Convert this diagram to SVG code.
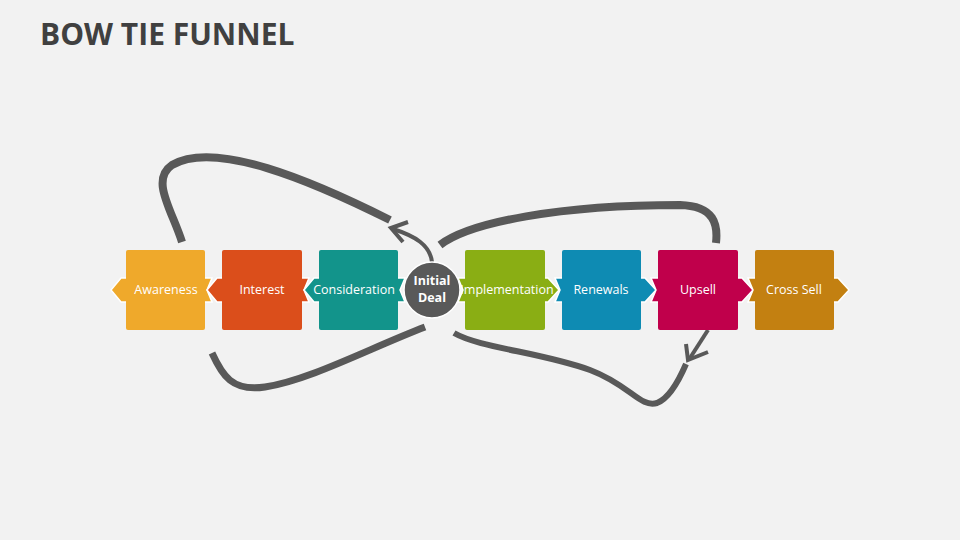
<svg xmlns="http://www.w3.org/2000/svg" width="960" height="540" viewBox="0 0 960 540">
<style>
.lbl{font-family:"Open Sans","Liberation Sans",sans-serif;font-size:12.5px;fill:#fff;text-anchor:middle}
.ln{fill:none;stroke:#595959;stroke-linecap:butt}
.tab{stroke:#fff;stroke-width:1.5}
</style>
<rect width="960" height="540" fill="#f2f2f2"/>
<text x="40" y="45" font-family="Open Sans,Liberation Sans,sans-serif" font-weight="bold" font-size="30" fill="#404040">BOW TIE FUNNEL</text>
<g id="connectors">
<path class="ln" stroke-width="8" d="M182,242 C172,210 150,180 172,165 C215,140 310,180 390,220"/>
<path class="ln" stroke-width="4" d="M432,262 C430,245 415,236 393,229"/>
<path class="ln" stroke-width="4" d="M408,222 L391,228 L403,242"/>
<path class="ln" stroke-width="8" d="M440,245 C470,222 560,205 680,205 C715,206 718,225 716,243"/>
<path class="ln" stroke-width="7" d="M212,353 C222,375 232,392 265,387 C310,380 370,348 425,327"/>
<path class="ln" stroke-width="6" d="M454,333 C480,348 540,352 590,370 C630,385 640,408 657,403 C670,398 680,378 686,364"/>
<path class="ln" stroke-width="4" d="M708,330 L690,358"/>
<path class="ln" stroke-width="4" d="M686,344 L688,360 L708,352"/>
</g>
<g id="awareness"><polygon class="tab" fill="#efa92b" points="111,290 121,278 212,278 207,290 212,302 121,302"/><rect x="126" y="250" width="79" height="80" rx="2" fill="#efa92b"/><text class="lbl" x="166" y="294">Awareness</text></g>
<g id="interest"><polygon class="tab" fill="#db4e1b" points="207,290 217,278 309,278 304,290 309,302 217,302"/><rect x="222" y="250" width="80" height="80" rx="2" fill="#db4e1b"/><text class="lbl" x="262" y="294">Interest</text></g>
<g id="consideration"><polygon class="tab" fill="#12948b" points="304,290 314,278 405,278 400,290 405,302 314,302"/><rect x="319" y="250" width="79" height="80" rx="2" fill="#12948b"/><text class="lbl" x="354" y="294">Consideration</text></g>
<g id="implementation"><polygon class="tab" fill="#8aae14" points="458,278 548,278 559,290 548,302 458,302 463,290"/><rect x="465" y="250" width="80" height="80" rx="2" fill="#8aae14"/><text class="lbl" x="507" y="294" font-size="10.5">Implementation</text></g>
<g id="renewals"><polygon class="tab" fill="#0e8bb3" points="555,278 645,278 656,290 645,302 555,302 560,290"/><rect x="562" y="250" width="79" height="80" rx="2" fill="#0e8bb3"/><text class="lbl" x="601" y="294">Renewals</text></g>
<g id="upsell"><polygon class="tab" fill="#c0004b" points="651,278 742,278 753,290 742,302 651,302 656,290"/><rect x="658" y="250" width="80" height="80" rx="2" fill="#c0004b"/><text class="lbl" x="698" y="294">Upsell</text></g>
<g id="cross-sell"><polygon class="tab" fill="#c38011" points="748,278 838,278 849,290 838,302 748,302 753,290"/><rect x="755" y="250" width="79" height="80" rx="2" fill="#c38011"/><text class="lbl" x="794" y="294">Cross Sell</text></g>
<g id="initial-deal"><circle cx="432" cy="290" r="28" fill="#595959" stroke="#fff" stroke-width="1.5"/><text class="lbl" x="432" y="285" font-weight="bold" font-size="12">Initial</text><text class="lbl" x="432" y="302" font-weight="bold" font-size="12">Deal</text></g>
</svg>
